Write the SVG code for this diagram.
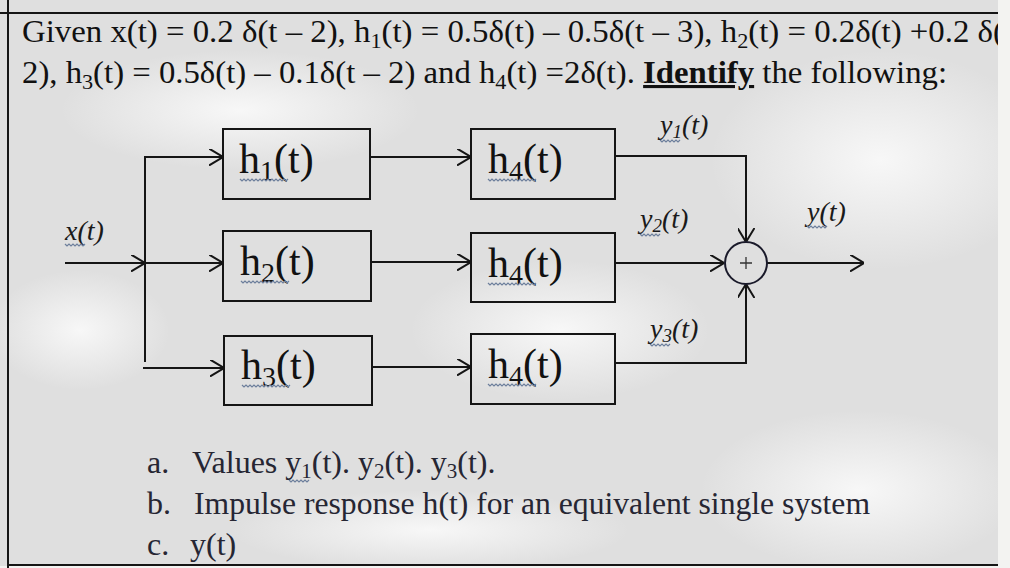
<svg xmlns="http://www.w3.org/2000/svg" width="1010" height="568" viewBox="0 0 1010 568">
<defs>
<style>
.ln{stroke:#151515;stroke-width:2;fill:none}
.bx{fill:none;stroke:#151515;stroke-width:2}
.bl{font-family:"Liberation Serif","Times New Roman",serif;font-size:42px;fill:#111}
.it{font-family:"Liberation Serif","Times New Roman",serif;font-style:italic;font-size:28px;fill:#1a1a1a}
.tt{font-family:"Liberation Serif","Times New Roman",serif;font-size:31px;fill:#111}
.q{font-family:"Liberation Serif","Times New Roman",serif;font-size:32px;fill:#262633}
.sq{fill:none;stroke:#6d7f9c;stroke-width:1.2}
</style>
<marker id="ah" markerUnits="userSpaceOnUse" viewBox="0 0 14 17" refX="14" refY="8.5" markerWidth="14" markerHeight="17" orient="auto">
<path d="M0,0 L14,8.5 L0,17" fill="none" stroke="#151515" stroke-width="2"/>
</marker>
<path id="wv" d="M0,0 l2,2 l2,-2 l2,2 l2,-2 l2,2 l2,-2 l2,2 l2,-2 l2,2 l2,-2 l2,2 l2,-2 l2,2 l2,-2 l2,2 l2,-2 l2,2 l2,-2 l2,2 l2,-2 l2,2 l2,-2 l2,2 l2,-2"/>
<path id="ws" d="M0,0 l2,2 l2,-2 l2,2 l2,-2 l2,2 l2,-2 l2,2 l2,-2 l2,2 l2,-2"/>
<radialGradient id="wg"><stop offset="0" stop-color="#fafafa" stop-opacity="0.9"/><stop offset="1" stop-color="#fafafa" stop-opacity="0"/></radialGradient>
<clipPath id="pg"><rect x="0" y="0" width="998" height="568"/></clipPath>
</defs>
<rect x="0" y="0" width="1010" height="568" fill="#f3f3f1"/>
<rect x="0" y="0" width="998" height="566" fill="#dfdfdf"/>
<g clip-path="url(#pg)">
<ellipse cx="240" cy="110" rx="180" ry="60" fill="url(#wg)"/>
<ellipse cx="880" cy="160" rx="170" ry="110" fill="url(#wg)"/>
<ellipse cx="560" cy="330" rx="150" ry="70" fill="url(#wg)"/>
<ellipse cx="860" cy="490" rx="160" ry="80" fill="url(#wg)"/>
<ellipse cx="430" cy="530" rx="200" ry="40" fill="url(#wg)"/>
<ellipse cx="80" cy="330" rx="90" ry="60" fill="url(#wg)"/>
</g>
<line x1="8" y1="0" x2="8" y2="568" class="ln"/>
<line x1="0" y1="13" x2="998" y2="13" class="ln"/>
<line x1="8" y1="565" x2="998" y2="565" class="ln"/>

<g id="title" clip-path="url(#pg)">
<text class="tt" x="22" y="42" textLength="982" lengthAdjust="spacingAndGlyphs">Given x(t) = 0.2 δ(t – 2), h<tspan dy="6" font-size="21px">1</tspan><tspan dy="-6">(t) = 0.5δ(t) – 0.5δ(t – 3), h</tspan><tspan dy="6" font-size="21px">2</tspan><tspan dy="-6">(t) = 0.2δ(t) +0.2 δ(</tspan></text>
<text class="tt" x="22" y="83" textLength="925" lengthAdjust="spacingAndGlyphs">2), h<tspan dy="6" font-size="21px">3</tspan><tspan dy="-6">(t) = 0.5δ(t) – 0.1δ(t – 2) and h</tspan><tspan dy="6" font-size="21px">4</tspan><tspan dy="-6">(t) =2δ(t). </tspan><tspan font-weight="bold" text-decoration="underline">Identify</tspan> the following:</text>
</g>

<g id="connectors">
<line x1="65" y1="263" x2="145" y2="263" class="ln" marker-end="url(#ah)"/>
<line x1="145" y1="156" x2="145" y2="362" class="ln"/>
<line x1="144" y1="157" x2="223" y2="157" class="ln" marker-end="url(#ah)"/>
<line x1="145" y1="263" x2="223" y2="263" class="ln" marker-end="url(#ah)"/>
<line x1="143" y1="368" x2="224" y2="368" class="ln" marker-end="url(#ah)"/>
<line x1="370" y1="157" x2="471" y2="157" class="ln" marker-end="url(#ah)"/>
<line x1="371" y1="262" x2="471" y2="262" class="ln" marker-end="url(#ah)"/>
<line x1="372" y1="367" x2="471" y2="367" class="ln" marker-end="url(#ah)"/>
<polyline points="615,156 746,156 746,242" class="ln" marker-end="url(#ah)"/>
<line x1="615" y1="263" x2="724" y2="263" class="ln" marker-end="url(#ah)"/>
<polyline points="615,363 746,363 746,284" class="ln" marker-end="url(#ah)"/>
<line x1="767" y1="263" x2="864" y2="263" class="ln" marker-end="url(#ah)"/>
</g>

<g id="lbl-x"><text class="it" x="65" y="240">x(t)</text><use href="#ws" x="65" y="244" class="sq"/></g>

<g id="h1"><rect x="223" y="129" width="147" height="70" class="bx"/><text class="bl" x="239" y="173">h<tspan dy="7" font-size="28px">1</tspan><tspan dy="-7">(t)</tspan></text><use href="#wv" x="240" y="179" class="sq"/></g>
<g id="h2"><rect x="223" y="231" width="148" height="70" class="bx"/><text class="bl" x="240" y="275">h<tspan dy="7" font-size="28px">2</tspan><tspan dy="-7">(t)</tspan></text><use href="#wv" x="241" y="281" class="sq"/></g>
<g id="h3"><rect x="224" y="336" width="148" height="69" class="bx"/><text class="bl" x="241" y="379">h<tspan dy="7" font-size="28px">3</tspan><tspan dy="-7">(t)</tspan></text><use href="#wv" x="242" y="385" class="sq"/></g>

<g id="h4a"><rect x="471" y="129" width="144" height="70" class="bx"/><text class="bl" x="488" y="173">h<tspan dy="7" font-size="28px">4</tspan><tspan dy="-7">(t)</tspan></text><use href="#wv" x="488" y="179" class="sq"/></g>
<g id="h4b"><rect x="471" y="233" width="144" height="69" class="bx"/><text class="bl" x="488" y="277">h<tspan dy="7" font-size="28px">4</tspan><tspan dy="-7">(t)</tspan></text><use href="#wv" x="488" y="283" class="sq"/></g>
<g id="h4c"><rect x="471" y="334" width="144" height="70" class="bx"/><text class="bl" x="488" y="378">h<tspan dy="7" font-size="28px">4</tspan><tspan dy="-7">(t)</tspan></text><use href="#wv" x="488" y="384" class="sq"/></g>

<g id="sum"><circle cx="746" cy="263" r="21" fill="none" stroke="#1a1a2a" stroke-width="2"/><path d="M740,263 h12 M746,257 v12" stroke="#333" stroke-width="1.3"/></g>

<g id="labels">
<text class="it" x="660" y="134">y<tspan dy="4" font-size="19px">1</tspan><tspan dy="-4">(t)</tspan></text><use href="#ws" x="660" y="140" class="sq"/>
<text class="it" x="640" y="228">y<tspan dy="4" font-size="19px">2</tspan><tspan dy="-4">(t)</tspan></text><use href="#ws" x="640" y="234" class="sq"/>
<text class="it" x="650" y="338">y<tspan dy="4" font-size="19px">3</tspan><tspan dy="-4">(t)</tspan></text><use href="#ws" x="650" y="344" class="sq"/>
<text class="it" x="807" y="221">y(t)</text><use href="#ws" x="807" y="226" class="sq"/>
</g>

<g id="questions">
<text class="q" x="147" y="473">a.</text>
<text class="q" x="192" y="473">Values y<tspan dy="5" font-size="21px">1</tspan><tspan dy="-5">(t).  y</tspan><tspan dy="5" font-size="21px">2</tspan><tspan dy="-5">(t). y</tspan><tspan dy="5" font-size="21px">3</tspan><tspan dy="-5">(t).</tspan></text>
<use href="#ws" x="289" y="480" class="sq"/>
<text class="q" x="147" y="514">b.</text>
<text class="q" x="194" y="514" textLength="676" lengthAdjust="spacingAndGlyphs">Impulse response h(t) for an equivalent single system</text>
<text class="q" x="147" y="555">c.</text>
<text class="q" x="190" y="555">y(t)</text>
</g>
</svg>
